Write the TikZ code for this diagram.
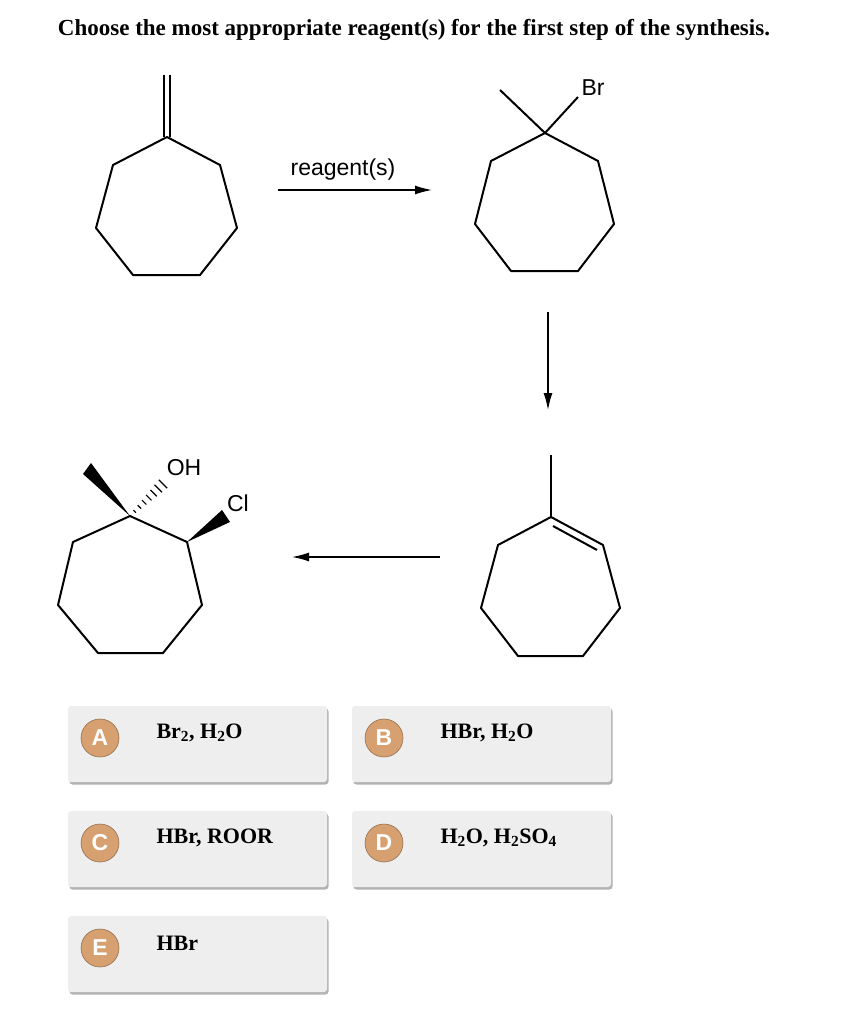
\documentclass[tikz,border=0pt]{standalone}
\usepackage{fontspec}
\setmainfont{Liberation Serif}
\newfontfamily\lsans{Liberation Sans}
\usetikzlibrary{shadows,arrows.meta,calc}
\definecolor{boxgray}{RGB}{238,238,238}
\definecolor{badge}{RGB}{214,160,112}
\tikzset{
 bond/.style={line width=2pt,line join=round},
 arr/.style={line width=1.4pt,-{Latex[length=17pt,width=9pt]}},
 optbox/.style={fill=boxgray,rounded corners=3pt,drop shadow={shadow xshift=1.5pt,shadow yshift=-2.5pt,opacity=0.6}},
 badgec/.style={circle,fill=badge,draw=badge!70!black,line width=0.6pt,minimum size=38pt,inner sep=0pt,text=white,font=\lsans\bfseries\fontsize{23}{23}\selectfont},
 opt/.style={anchor=west,font=\bfseries\fontsize{22}{24}\selectfont},
 lab/.style={font=\lsans\fontsize{23}{25}\selectfont,inner sep=1pt}
}
\newcommand{\sbb}[1]{\textsubscript{#1}}
\begin{document}
\begin{tikzpicture}[x=1pt,y=-1pt]
\useasboundingbox (0,0) rectangle (867,1024);
\node[font=\bfseries\fontsize{23}{26}\selectfont] (title) at (414,30) {Choose the most appropriate reagent(s) for the first step of the synthesis.};
% molecule 1
\draw[bond] (167,137)--(220,165)--(237,228)--(200,275)--(133,275)--(96,228)--(113,165)--cycle;
\draw[bond] (164,137)--(164,75) (170,137)--(170,75);
% arrow
\node[lab] (reag) at (343,170) {reagent(s)};
\coordinate (a1) at (278,190); \coordinate (a2) at (432,190);
\draw[arr] (a1)--(a2);
% molecule 2
\draw[bond] (545,133)--(598,161)--(614,224)--(578,271)--(511,271)--(475,224)--(491,161)--cycle;
\draw[bond] (545,133)--(500,90);
\draw[bond] (545,133)--(578,97);
\node[lab] (br) at (593,88) {Br};
\coordinate (d1) at (548,312); \coordinate (d2) at (548,410);
\draw[arr] (d1)--(d2);
% molecule 3
\draw[bond] (551,517)--(603,545)--(620,608)--(583,656)--(518,656)--(481,608)--(498,545)--cycle;
\draw[bond] (551,517)--(551,455);
\draw[bond] (553,526)--(597,550);
\coordinate (l1) at (440,557); \coordinate (l2) at (292,557);
\draw[arr] (l1)--(l2);
% molecule 4
\draw[bond] (130,516)--(187,542)--(202,605)--(163,653)--(98,653)--(58,605)--(73,542)--cycle;
\fill (130,516)--(83,474)--(91,463)--cycle;
\fill (187,542)--(222,510)--(230,522)--cycle;
\foreach \i in {1,...,7}{
  \pgfmathsetmacro\tt{\i/7}
  \pgfmathsetmacro\hw{1+5*\tt}
  \draw[line width=1.2pt] ($(130,516)!\tt!(163,484)$) ++(-\hw*0.7,-\hw*0.7) -- ++(\hw*1.4,\hw*1.4);
}
\node[lab] (oh) at (184,468) {OH};
\node[lab] (cl) at (238,503) {Cl};
% options
\foreach \nm/\x/\y/\L/\txt in {A/68/706/A/{Br\sbb{2}, H\sbb{2}O},B/352/706/B/{HBr, H\sbb{2}O},C/68/811/C/{HBr, ROOR},D/352/811/D/{H\sbb{2}O, H\sbb{2}SO\sbb{4}},E/68/916/E/{HBr}}{
  \fill[optbox] (\x,\y) rectangle ++(259,76);
  \node[badgec] (b\nm) at (\x+32,\y+32) {\L};
  \node[opt] (t\nm) at (\x+85,\y+27) {\txt};
}
\end{tikzpicture}
\end{document}
